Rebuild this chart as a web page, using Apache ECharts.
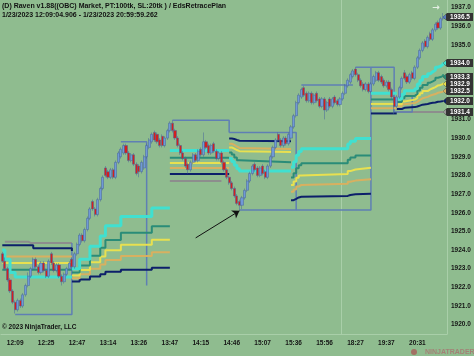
<!DOCTYPE html>
<html><head><meta charset="utf-8">
<script src="https://cdn.jsdelivr.net/npm/echarts@6/dist/echarts.min.js"></script>
<style>html,body{margin:0;padding:0;background:#8fbc8f;}#c{width:474px;height:356px;}</style>
</head><body><div id="c"></div>
<script>
const N = 173;
const timeTicks = [[5,'12:09'],[17,'12:25'],[29,'12:47'],[41,'13:14'],[53,'13:26'],[65,'13:47'],[77,'14:15'],[89,'14:46'],[101,'15:07'],[113,'15:36'],[125,'15:56'],[137,'18:27'],[149,'19:37'],[161,'20:31']];

const opens = [1923.8,1923.4,1923.0,1922.4,1921.8,1921.2,1920.8,1921.3,1921.0,1921.6,1922.1,1922.6,1923.0,1923.5,1923.1,1922.8,1923.3,1922.9,1922.6,1923.8,
1923.3,1922.9,1923.2,1922.6,1922.3,1922.7,1923.0,1923.5,1923.1,1923.8,1924.3,1924.8,1924.5,1925.1,1925.7,1926.6,1926.2,1925.9,1926.7,1927.3,
1928.4,1928.2,1927.9,1928.3,1927.9,1928.7,1929.0,1929.2,1929.6,1929.2,1928.8,1929.1,1928.6,1928.5,1928.2,1928.4,1929.0,1929.5,1929.8,1930.3,
1930.2,1929.9,1930.1,1929.6,1930.0,1930.4,1930.8,1930.4,1930.0,1929.6,1929.2,1928.9,1928.6,1928.3,1928.7,1929.1,1928.8,1929.4,1929.1,1929.8,
1929.6,1929.2,1929.7,1929.3,1928.9,1929.2,1928.7,1928.3,1927.9,1927.6,1927.3,1926.9,1926.6,1926.4,1926.8,1927.2,1927.7,1928.1,1928.6,1928.4,
1928.0,1928.5,1928.2,1927.9,1928.5,1929.0,1929.5,1930.2,1929.9,1929.6,1930.0,1929.7,1930.0,1930.6,1931.2,1931.9,1932.2,1932.7,1932.4,1932.0,
1932.4,1931.9,1932.4,1932.1,1931.7,1932.1,1931.5,1932.1,1931.7,1932.2,1932.0,1931.8,1932.1,1932.4,1932.8,1933.0,1933.3,1933.7,1933.4,1933.1,
1932.9,1932.6,1932.9,1932.5,1932.9,1933.1,1933.5,1933.3,1933.1,1932.8,1933.0,1932.6,1932.2,1931.7,1932.2,1932.7,1933.5,1933.3,1933.0,1933.5,
1933.2,1933.8,1934.3,1934.7,1935.2,1934.9,1935.6,1935.3,1935.8,1936.2,1935.9,1936.4];
const closes = [1923.4,1923.0,1922.4,1921.8,1921.2,1920.8,1921.3,1921.0,1921.6,1922.1,1922.6,1923.0,1923.5,1923.1,1922.8,1923.3,1922.9,1922.6,1923.4,1923.3,
1922.9,1923.2,1922.6,1922.3,1922.7,1923.0,1923.3,1923.1,1923.8,1924.3,1924.8,1924.5,1925.1,1925.7,1926.2,1926.2,1925.9,1926.7,1927.3,1927.9,
1928.0,1927.9,1928.3,1927.9,1928.7,1929.2,1929.4,1929.6,1929.2,1928.8,1929.1,1928.6,1928.1,1928.2,1928.7,1929.0,1929.6,1929.9,1930.2,1929.9,
1929.8,1929.6,1929.6,1930.0,1930.4,1930.8,1930.4,1930.0,1929.6,1929.2,1928.9,1928.5,1928.3,1928.7,1929.1,1928.8,1929.3,1929.1,1929.8,1929.5,
1929.2,1929.6,1929.3,1928.9,1929.2,1928.7,1928.3,1927.9,1927.6,1927.3,1926.9,1926.5,1926.4,1926.8,1927.2,1927.7,1928.1,1928.5,1928.3,1928.0,
1928.4,1928.1,1927.9,1928.5,1929.0,1929.5,1929.9,1929.9,1929.6,1930.0,1929.7,1930.2,1930.6,1931.2,1931.9,1932.3,1932.6,1932.3,1932.0,1932.4,
1931.9,1932.3,1932.0,1931.7,1932.1,1931.5,1931.9,1931.7,1932.1,1931.9,1931.8,1932.1,1932.4,1932.8,1933.1,1933.4,1933.6,1933.4,1933.1,1932.8,
1932.6,1932.9,1932.5,1932.9,1933.3,1933.5,1933.1,1933.0,1932.8,1933.0,1932.6,1932.2,1931.7,1932.2,1932.7,1933.2,1933.2,1933.0,1933.4,1933.2,
1933.8,1934.3,1934.7,1935.1,1934.9,1935.4,1935.3,1935.8,1936.1,1935.9,1936.4,1936.5];
const lows = [1923.3,1922.9,1922.3,1921.7,1921.1,1920.6,1920.7,1920.9,1920.9,1921.5,1922.0,1922.5,1922.9,1923.0,1922.7,1922.7,1922.8,1922.5,1922.5,1923.2,
1922.8,1922.8,1922.5,1922.1,1922.2,1922.6,1922.9,1923.0,1923.0,1923.7,1924.2,1924.4,1924.4,1925.0,1925.6,1926.1,1925.8,1925.8,1926.6,1927.2,
1927.9,1927.8,1927.8,1927.8,1927.8,1928.6,1928.9,1929.1,1929.1,1928.7,1928.7,1928.5,1928.0,1927.9,1928.1,1928.3,1928.9,1929.4,1929.7,1929.8,
1929.7,1929.5,1929.5,1929.5,1929.9,1930.3,1930.3,1929.9,1929.5,1929.1,1928.8,1928.4,1928.1,1928.2,1928.6,1928.7,1928.7,1929.0,1929.0,1929.4,
1929.1,1929.1,1929.2,1928.8,1928.8,1928.6,1928.2,1927.8,1927.5,1927.2,1926.8,1926.4,1926.15,1926.2,1926.7,1927.1,1927.6,1928.0,1928.2,1927.9,
1927.9,1928.0,1927.8,1927.8,1928.4,1928.9,1929.4,1929.8,1929.5,1929.5,1929.6,1929.6,1929.9,1930.5,1931.1,1931.8,1932.1,1932.2,1931.9,1931.9,
1931.8,1931.8,1931.9,1931.6,1931.6,1931.0,1931.4,1931.6,1931.6,1931.8,1931.7,1931.7,1932.0,1932.3,1932.7,1932.9,1933.2,1933.3,1933.0,1932.7,
1932.5,1932.5,1932.4,1932.4,1932.8,1933.0,1933.0,1932.9,1932.7,1932.7,1932.5,1932.1,1931.3,1931.6,1932.1,1932.6,1933.1,1932.9,1932.9,1933.1,
1933.1,1933.7,1934.2,1934.6,1934.8,1934.8,1935.2,1935.2,1935.7,1935.8,1935.8,1936.3];
const highs = [1923.9,1923.6,1923.1,1922.5,1921.9,1921.3,1921.4,1921.4,1921.7,1922.2,1922.8,1923.1,1923.6,1923.6,1923.2,1923.4,1923.4,1923.0,1923.5,1923.9,
1923.4,1923.3,1923.3,1922.7,1922.8,1923.1,1923.4,1923.6,1923.9,1924.4,1924.9,1924.9,1925.2,1925.8,1926.3,1926.7,1926.3,1926.8,1927.4,1928.0,
1928.5,1928.3,1928.4,1928.4,1928.8,1929.3,1929.5,1929.7,1929.7,1929.3,1929.2,1929.2,1928.7,1928.6,1928.8,1929.1,1929.7,1930.0,1930.3,1930.4,
1930.3,1930.0,1930.2,1930.1,1930.5,1930.9,1930.95,1930.5,1930.1,1929.7,1929.3,1929.0,1928.7,1928.8,1929.2,1929.2,1929.4,1929.5,1930.3,1929.9,
1929.7,1929.7,1929.8,1929.4,1929.3,1929.3,1928.8,1928.4,1928.0,1927.7,1927.4,1927.0,1926.7,1926.9,1927.3,1927.8,1928.2,1928.6,1928.7,1928.5,
1928.5,1928.6,1928.3,1928.6,1929.1,1929.6,1930.0,1930.3,1930.0,1930.1,1930.1,1930.3,1930.7,1931.3,1932.0,1932.4,1932.7,1932.8,1932.5,1932.5,
1932.5,1932.4,1932.5,1932.2,1932.2,1932.2,1932.0,1932.2,1932.2,1932.3,1932.1,1932.2,1932.5,1932.9,1933.2,1933.5,1933.7,1933.8,1933.5,1933.2,
1933.0,1933.0,1933.0,1933.0,1933.4,1933.6,1933.6,1933.4,1933.2,1933.1,1933.1,1932.7,1932.3,1932.3,1932.8,1933.3,1933.65,1933.4,1933.5,1933.6,
1933.9,1934.4,1934.8,1935.2,1935.3,1935.5,1935.7,1935.9,1936.2,1936.3,1936.5,1936.7];

const cyanSegs = [
 [[0,1924.0],[1,1923.5],[3,1922.8],[5,1922.55],[27,1922.55]],
 [[27,1923.0],[30,1923.5],[34,1924.2],[38,1924.75],[40,1925.3],[46,1925.8],[58,1926.25],[65,1926.25]],
 [[65,1929.33],[88,1929.33]],
 [[88,1928.9],[89,1928.75],[90,1928.55],[91,1928.35],[92,1928.23],[112,1928.23]],
 [[112,1928.43],[113,1928.73],[114,1929.08],[115,1929.28],[116,1929.43],[134,1929.68],[135,1929.83],[137,1929.98],[143,1929.98]],
 [[143,1932.4],[153,1932.4]],
 [[153,1932.1],[155,1932.35],[156,1932.53],[160,1932.65],[161,1932.9],[162,1933.1],[163,1933.3],[165,1933.45],[166,1933.55],[167,1933.65],[168,1933.8],[169,1933.85],[170,1933.95],[171,1934.05]]
];
const tealSegs = [
 [[0,1922.95],[27,1922.95]],
 [[27,1922.79],[30,1923.17],[34,1923.70],[38,1924.12],[40,1924.54],[46,1924.93],[58,1925.27],[65,1925.27]],
 [[65,1928.94],[88,1928.94]],
 [[88,1929.23],[89,1929.12],[90,1928.96],[91,1928.81],[92,1928.71],[112,1928.71]],
 [[112,1927.89],[113,1928.12],[114,1928.38],[115,1928.54],[116,1928.65],[134,1928.84],[135,1928.96],[137,1929.07],[143,1929.07]],
 [[143,1932.07],[153,1932.07]],
 [[153,1931.93],[155,1932.13],[156,1932.26],[160,1932.36],[161,1932.55],[162,1932.7],[163,1932.85],[165,1932.97],[166,1933.04],[167,1933.12],[168,1933.23],[169,1933.27],[170,1933.35],[171,1933.42]]
];
const yellowSegs = [
 [[0,1923.3],[27,1923.3]],
 [[27,1922.63],[30,1922.93],[34,1923.34],[38,1923.66],[40,1923.99],[46,1924.28],[58,1924.55],[65,1924.55]],
 [[65,1928.66],[88,1928.66]],
 [[88,1929.5],[89,1929.43],[90,1929.36],[91,1929.3],[92,1929.25],[112,1929.25]],
 [[112,1927.49],[113,1927.67],[114,1927.88],[115,1928.0],[116,1928.08],[134,1928.23],[135,1928.32],[137,1928.41],[143,1928.41]],
 [[143,1931.83],[153,1931.83]],
 [[153,1931.81],[155,1931.96],[156,1932.06],[160,1932.14],[161,1932.29],[162,1932.4],[163,1932.52],[165,1932.61],[166,1932.67],[167,1932.73],[168,1932.82],[169,1932.85],[170,1932.9],[171,1932.96]]
];
const khakiSegs = [
 [[0,1923.65],[27,1923.65]],
 [[27,1922.49],[30,1922.70],[34,1923.0],[38,1923.23],[40,1923.47],[46,1923.68],[58,1923.88],[65,1923.88]],
 [[65,1928.40],[88,1928.40]],
 [[88,1929.7],[89,1929.64],[90,1929.55],[91,1929.47],[92,1929.41],[112,1929.41]],
 [[112,1927.12],[113,1927.25],[114,1927.40],[115,1927.49],[116,1927.55],[134,1927.66],[135,1927.72],[137,1927.79],[143,1927.79]],
 [[143,1931.6],[153,1931.6]],
 [[153,1931.7],[155,1931.81],[156,1931.88],[160,1931.94],[161,1932.04],[162,1932.13],[163,1932.21],[165,1932.28],[166,1932.32],[167,1932.36],[168,1932.43],[169,1932.45],[170,1932.49],[171,1932.53]]
];
const navySegs = [
 [[0,1924.25],[12,1924.1],[27,1923.95]],
 [[27,1922.31],[30,1922.42],[34,1922.58],[38,1922.70],[40,1922.83],[46,1922.94],[58,1923.05],[65,1923.05]],
 [[65,1928.07],[88,1928.07]],
 [[88,1929.98],[89,1929.95],[90,1929.9],[91,1929.86],[92,1929.83],[112,1929.83]],
 [[112,1926.67],[113,1926.74],[114,1926.82],[115,1926.86],[116,1926.9],[134,1926.95],[135,1926.99],[137,1927.02],[143,1927.02]],
 [[143,1931.32],[153,1931.32]],
 [[153,1931.56],[155,1931.62],[156,1931.66],[160,1931.69],[161,1931.74],[162,1931.79],[163,1931.83],[165,1931.87],[166,1931.89],[167,1931.91],[168,1931.95],[169,1931.96],[170,1931.98],[171,1932.0]]
];
const greySegs = [
 [[1,1924.45],[10,1924.45],[11,1924.38],[27,1924.38]],
 [[65,1927.7],[85,1927.7]],
 [[153,1931.4],[171,1931.4]]
];
const boxSegs = [
 [[5,1920.55],[27,1920.55],[27,1924.38]],
 [[46,1929.8],[56,1929.8],[56,1922.1]],
 [[66,1930.95],[88,1930.95],[88,1930.3]],
 [[88,1930.3],[114,1930.3],[114,1926.15],[92,1926.15]],
 [[114,1926.15],[143,1926.15],[143,1933.8]],
 [[116,1932.85],[136,1932.85]],
 [[137,1933.8],[152,1933.8],[152,1931.4],[159,1931.4],[159,1932.2]]
];
const arrowFrom = [75,1924.65], arrowTo = [92,1926.1];
const priceTags = [[1936.5,'#5a80c0'],[1934.0,'#40e0d0'],[1933.3,'#2a8c78'],[1932.9,'#e8e050'],[1932.5,'#d8b060'],[1932.0,'#0c1f6a'],[1931.4,'#9a9a9a']];

const cats = [];
for (let i = 0; i < N; i++) cats.push('');
timeTicks.forEach(t => { cats[t[0]] = t[1]; });
const candles = opens.map((o, i) => [o, closes[i], lows[i], highs[i]]);

const FONT = 'Liberation Sans';
const series = [];
function addLines(segs, color, width, step, z) {
  segs.forEach(s => series.push({type:'line', data:s, step: step ? 'end' : false, symbol:'none', silent:true,
    lineStyle:{color:color, width:width}, z:z, animation:false}));
}
addLines(greySegs, '#8d8d8d', 2, false, 2);
addLines(boxSegs, '#5f7fb4', 1.5, false, 2);
addLines(navySegs, '#0c1f6a', 2, true, 3);
addLines(khakiSegs, '#d8b060', 2, true, 3);
addLines(yellowSegs, '#e8e050', 2, true, 3);
addLines(tealSegs, '#2a8c78', 2, true, 3);
addLines(cyanSegs, '#40e0d0', 3, true, 3);
series.push({type:'candlestick', data:candles, barWidth:2.6, z:5,
  itemStyle:{color:'#7098d8', color0:'#d41f1f', borderColor:'#46659a', borderColor0:'#46659a', borderWidth:0.5}});
series.push({type:'line', data:[], symbol:'none', markLine:{silent:true, symbol:['none','arrow'], symbolSize:7,
  label:{show:false}, lineStyle:{color:'#111', width:1, type:'solid'},
  data:[[{coord:arrowFrom},{coord:arrowTo}]]}});

const chart = echarts.init(document.getElementById('c'), null, {renderer:'canvas'});
chart.setOption({
  animation:false,
  backgroundColor:'#8fbc8f',
  grid:{left:1, top:0, width:446, height:334},
  xAxis:{type:'category', data:cats, boundaryGap:true,
    axisLine:{show:true, lineStyle:{color:'#a9cfa9', width:1}}, axisTick:{show:false},
    axisLabel:{interval:(i, v) => v !== '', color:'#151515', fontFamily:FONT, fontSize:6.5, fontWeight:'bold', margin:6}},
  yAxis:{type:'value', position:'right', min:1919.5, max:1937.4, interval:0.5, scale:true,
    splitLine:{show:false}, axisTick:{show:false},
    axisLine:{show:true, lineStyle:{color:'#a9cfa9', width:1}},
    axisLabel:{formatter:v => (Math.abs(v - Math.round(v)) < 1e-6 ? v.toFixed(1) : ''), showMaxLabel:false,
      color:'#151515', fontFamily:FONT, fontSize:6.5, fontWeight:'bold', margin:4}},
  series:series
});

const g = [];
const xa = chart.convertToPixel({xAxisIndex:0}, 131), xb = chart.convertToPixel({xAxisIndex:0}, 132);
const xs = Math.round((xa + xb) / 2) + 0.5;
g.push({type:'line', shape:{x1:xs, y1:0, x2:xs, y2:334}, style:{stroke:'#a9cfa9', lineWidth:1}, z:0, silent:true});
priceTags.forEach(t => {
  const y = Math.round(chart.convertToPixel({yAxisIndex:0}, t[0]));
  g.push({type:'polygon', shape:{points:[[443,y],[447,y-4],[473,y-4],[473,y+4],[447,y+4]]}, style:{fill:'#333333'}, z:50});
  g.push({type:'polygon', shape:{points:[[443,y],[446,y-2.5],[446,y+2.5]]}, style:{fill:t[1]}, z:51});
  g.push({type:'text', x:460, y:y, style:{text:t[0].toFixed(1), fill:'#ffffff', font:'bold 6.5px "Liberation Sans"', align:'center', verticalAlign:'middle'}, z:52});
});
g.push({type:'text', x:2, y:6, style:{text:'(D) Raven v1.88((OBC) Market, PT:100tk, SL:20tk ) / EdsRetracePlan', fill:'#111', font:'bold 7px "Liberation Sans"', verticalAlign:'middle'}, z:60});
g.push({type:'text', x:2, y:15.5, style:{text:'1/23/2023 12:09:04.906 - 1/23/2023 20:59:59.262', fill:'#111', font:'bold 7px "Liberation Sans"', verticalAlign:'middle'}, z:60});
g.push({type:'text', x:2, y:327.5, style:{text:'© 2023 NinjaTrader, LLC', fill:'#111', font:'bold 6.5px "Liberation Sans"', verticalAlign:'middle'}, z:60});
g.push({type:'text', x:436, y:8, style:{text:'→', fill:'#e4efe4', font:'bold 9px "DejaVu Sans"', align:'center', verticalAlign:'middle'}, z:60});
g.push({type:'text', x:425, y:352, style:{text:'NINJATRADER', fill:'rgba(170,110,110,0.75)', font:'bold 7px "Liberation Sans"', verticalAlign:'middle'}, z:60});
g.push({type:'circle', shape:{cx:414, cy:352, r:3}, style:{fill:'rgba(170,80,80,0.7)'}, z:60});
chart.setOption({graphic:g});
</script></body></html>
